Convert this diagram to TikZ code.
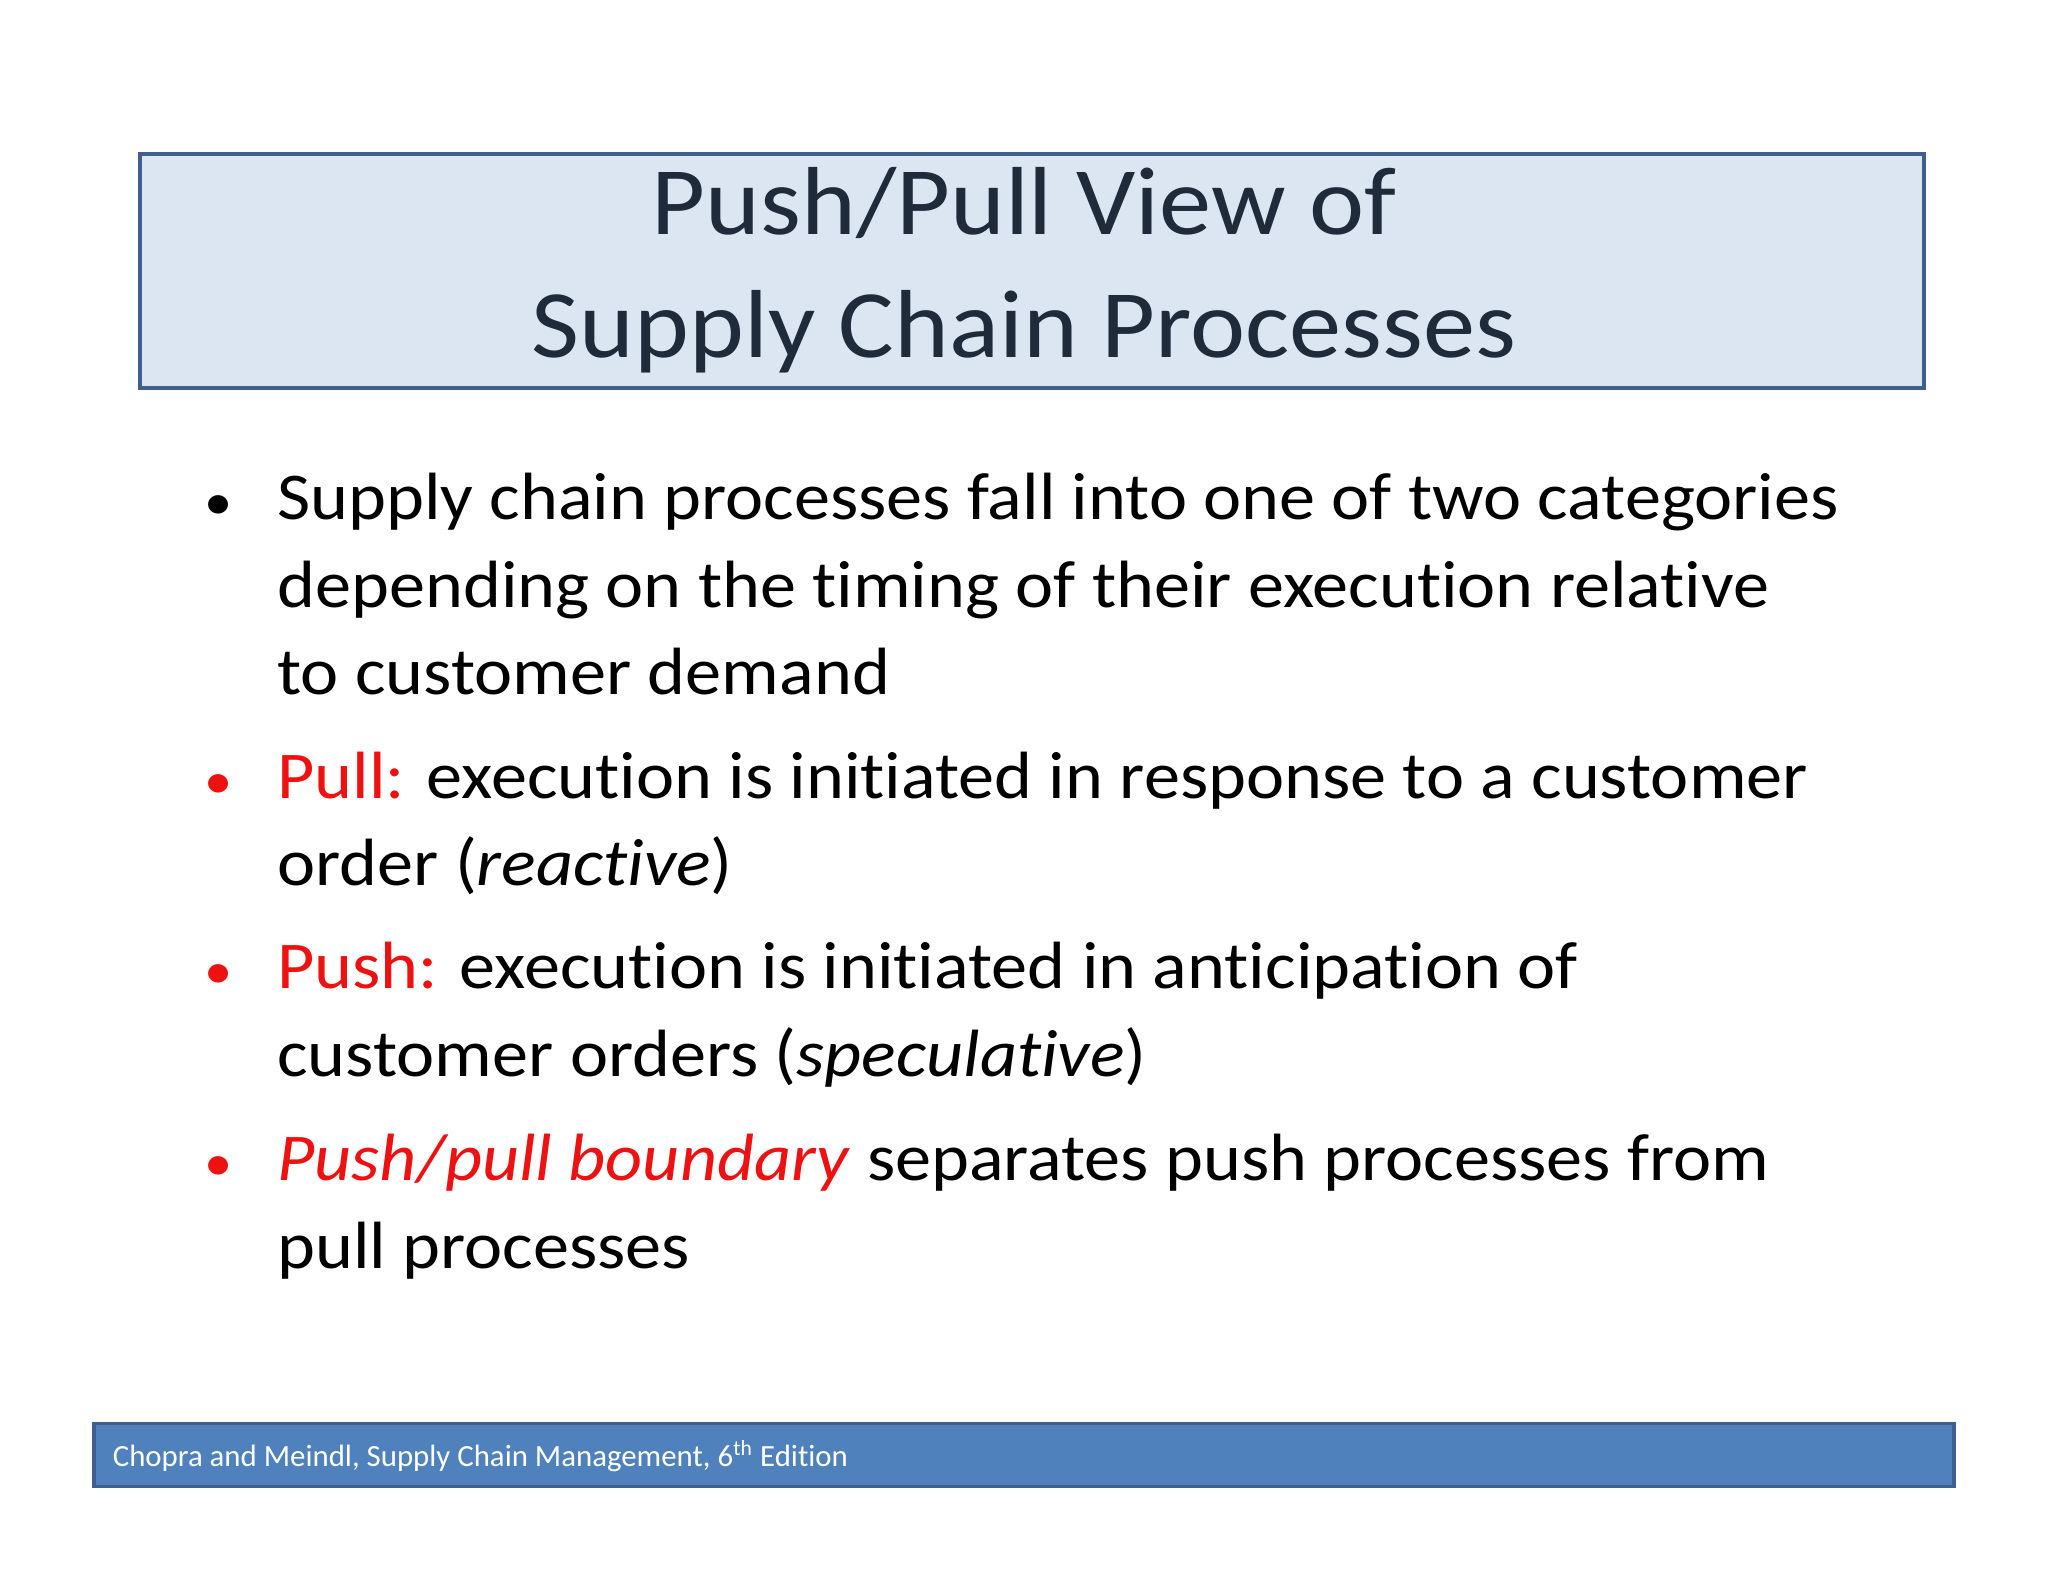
\documentclass[tikz,border=0pt]{standalone}
\usepackage{fontspec}
\setmainfont{Carlito}[Ligatures={NoCommon},FakeStretch=1.08]
\newfontfamily\footfont{Carlito}[Ligatures={NoCommon}]
\definecolor{tbox}{HTML}{DCE6F2}
\definecolor{tline}{HTML}{3F5F8F}
\definecolor{fbar}{HTML}{4F81BD}
\definecolor{ttext}{HTML}{1F2A3A}
\definecolor{pred}{HTML}{EE1111}
\begin{document}
\begin{tikzpicture}[x=0.5pt,y=-0.5pt,
  body/.style={anchor=base west,inner sep=0,font=\fontsize{25.6}{28}\selectfont},
  bul/.style={anchor=base,inner sep=0,font=\fontsize{20}{28}\selectfont}]
\useasboundingbox (0,0) rectangle (1568,1211);
\fill[white] (0,0) rectangle (1568,1211);
\node[draw=tline,line width=1.5pt,fill=tbox,minimum width=683pt,minimum height=89.5pt,inner sep=0] (title) at (790,207.5) {};
\node[align=center,text=ttext,font=\fontsize{37}{47}\selectfont] (tt) at (784,207) {Push/Pull View of\\Supply Chain Processes};
\node[bul] (b1) at (167,398) {•};
\node[body] (l1) at (212,398) {Supply chain processes fall into one of two categories};
\node[body] (l2) at (212,465) {depending on the timing of their execution relative};
\node[body] (l3) at (212,532) {to customer demand};
\node[bul,text=pred] (b2) at (167,611) {•};
\node[body] (l4) at (212,611) {\textcolor{pred}{Pull:} execution is initiated in response to a customer};
\node[body] (l5) at (212,678) {order (\textit{reactive})};
\node[bul,text=pred] (b3) at (167,757) {•};
\node[body] (l6) at (212,757) {\textcolor{pred}{Push:} execution is initiated in anticipation of};
\node[body] (l7) at (212,824) {customer orders (\textit{speculative})};
\node[bul,text=pred] (b4) at (167,904) {•};
\node[body] (l8) at (212,904) {\textcolor{pred}{\textit{Push/pull boundary}} separates push processes from};
\node[body] (l9) at (212,971) {pull processes};
\node[draw=tline,line width=1.2pt,fill=fbar,minimum width=712pt,minimum height=24pt,inner sep=0] (foot) at (784,1114) {};
\node[anchor=west,inner sep=0,text=white,font=\footfont\fontsize{11.8}{13}\selectfont] (ft) at (86,1115) {Chopra and Meindl, Supply Chain Management, 6\textsuperscript{th} Edition};
\end{tikzpicture}
\end{document}
